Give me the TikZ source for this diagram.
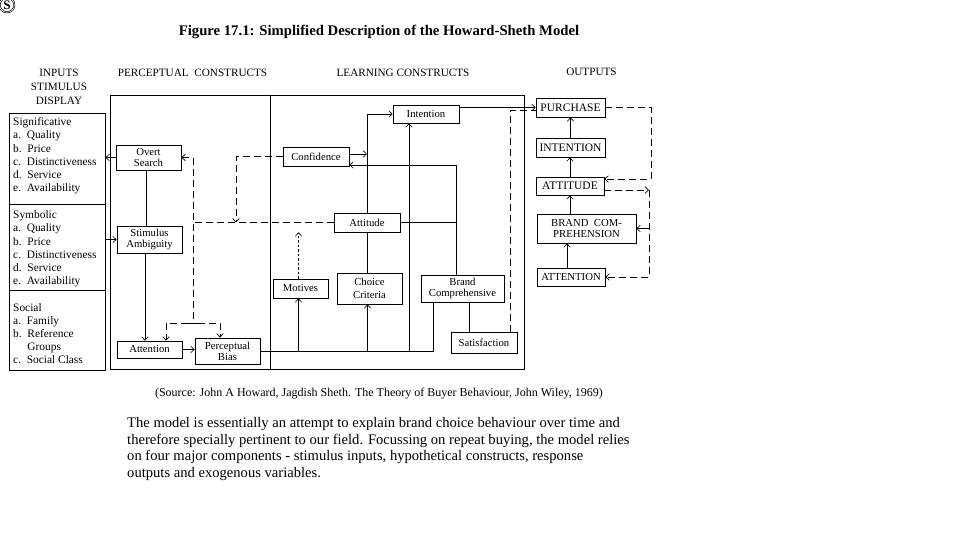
\documentclass[tikz,border=0pt]{standalone}
\usepackage{fontspec}
\setmainfont{Liberation Serif}
\usetikzlibrary{arrows.meta}
\begin{document}
\begin{tikzpicture}[x=1pt,y=-1pt,
  >={Straight Barb[length=3.5pt,width=6.5pt]},
  box/.style={draw, line width=0.7pt, inner sep=0pt, align=center, font=\fontsize{10.7}{11}\selectfont},
  obox/.style={box, font=\fontsize{11.5}{12}\selectfont},
  ibox/.style={draw, line width=0.8pt, inner sep=0pt, minimum width=96},
  itxt/.style={inner sep=0pt, anchor=north west, align=left, font=\fontsize{11.4}{13.2}\selectfont},
  hdr/.style={inner sep=0pt, align=center, font=\fontsize{11.2}{14}\selectfont},
  conn/.style={line width=0.6pt},
  dsh/.style={line width=0.7pt, dash pattern=on 7pt off 4pt},
  fdsh/.style={line width=0.6pt, dash pattern=on 2.5pt off 2pt},
  frame/.style={line width=0.8pt},
  para/.style={inner sep=0pt, anchor=base west, font=\fontsize{14.6}{16}\selectfont}]
\useasboundingbox (0,0) rectangle (959,540);
\fill[white] (0,0) rectangle (959,540);

% logo
\node[draw, circle, double, line width=0.6pt, inner sep=1.2pt, font=\bfseries\fontsize{13}{13}\selectfont] (logo) at (7,5) {S};

% title
\node[inner sep=0pt, font=\bfseries\fontsize{14.7}{16}\selectfont] (title) at (379,32) {Figure 17.1: Simplified Description of the Howard-Sheth Model};

% headers
\node[hdr] (h1) at (59,87) {INPUTS\\STIMULUS\\DISPLAY};
\node[hdr] (h2) at (192.5,73) {PERCEPTUAL\ \ CONSTRUCTS};
\node[hdr] (h3) at (403,73) {LEARNING CONSTRUCTS};
\node[hdr] (h4) at (591.5,72) {OUTPUTS};

% input boxes
\node[ibox, minimum height=91] (sig) at (57,158.5) {};
\node[ibox, minimum height=86] (sym) at (57,247) {};
\node[ibox, minimum height=80] (soc) at (57,330) {};
\node[itxt] (sigt) at (13,117.5) {Significative\\a.\ \ Quality\\b.\ \ Price\\c.\ \ Distinctiveness\\d.\ \ Service\\e.\ \ Availability};
\node[itxt] (symt) at (13,210.5) {Symbolic\\a.\ \ Quality\\b.\ \ Price\\c.\ \ Distinctiveness\\d.\ \ Service\\e.\ \ Availability};
\node[itxt] (soct) at (13,303) {Social\\a.\ \ Family\\b.\ \ Reference\\\phantom{b.\ \ }Groups\\c.\ \ Social Class};

% construct frame
\draw[frame] (110,95) rectangle (524,369);
\draw[frame] (270,95) -- (270,369);

% perceptual constructs
\node[box, minimum width=65, minimum height=25] (os) at (148.5,157.5) {Overt\\Search};
\node[box, minimum width=65, minimum height=27] (sa) at (149.5,239.5) {Stimulus\\Ambiguity};
\node[box, minimum width=65, minimum height=17] (att) at (149.5,349.5) {Attention};
\node[box, minimum width=65, minimum height=26] (pb) at (227.5,351) {Perceptual\\Bias};

% learning constructs
\node[box, minimum width=66, minimum height=19] (conf) at (316,156.5) {Confidence};
\node[box, minimum width=66, minimum height=18] (int) at (426,114) {Intention};
\node[box, minimum width=66, minimum height=19] (atti) at (367,222.5) {Attitude};
\node[box, minimum width=55, minimum height=19] (mot) at (300.5,288.5) {Motives};
\node[box, minimum width=65, minimum height=31, font=\fontsize{10.7}{13}\selectfont] (cc) at (369.5,288.5) {Choice\\Criteria};
\node[box, minimum width=83, minimum height=27] (bc) at (462.5,288.5) {Brand\\Comprehensive};
\node[box, minimum width=66, minimum height=21] (sat) at (484,342.5) {Satisfaction};

% outputs
\node[obox, minimum width=69, minimum height=19] (P) at (570.5,107.5) {PURCHASE};
\node[obox, minimum width=69, minimum height=19] (I) at (570.5,147.5) {INTENTION};
\node[obox, minimum width=68, minimum height=18] (A) at (570,186) {ATTITUDE};
\node[box, minimum width=99, minimum height=29, font=\fontsize{10.7}{11.5}\selectfont] (B) at (586.5,228.5) {BRAND\ \ COM-\\PREHENSION};
\node[box, minimum width=68, minimum height=18] (T) at (571,277) {ATTENTION};

% perceptual connectors
\draw[conn,->] (os.west) -- (os.west -| sig.east);
\draw[conn,->] (sa.west -| sym.east) -- (sa.west);
\draw[conn] ([xshift=-2.5pt]os.south) -- ([xshift=-2.5pt]os.south |- sa.north);
\draw[conn,->] ([xshift=-4.5pt]sa.south) -- ([xshift=-4.5pt]sa.south |- att.north);
\draw[conn,->] (att.east) -- (att.east -| pb.west);

\coordinate (tj) at (193,323);
\coordinate (tl) at (166,323);
\coordinate (tr) at (220,323);
\draw[dsh,<-] (os.east) -| (tj);
\draw[conn] ([xshift=-5pt]tj) -- ([xshift=5pt]tj);
\draw[dsh,->] ([xshift=-5pt]tj) -- (tl) -- (tl |- att.north);
\draw[dsh,->] ([xshift=5pt]tj) -- (tr) -- (tr |- pb.north);
\draw[dsh] (atti.west) -- (atti.west -| tj);
\coordinate (cd) at (236,156.5);
\draw[dsh,->] (conf.west) -- (cd) -- (cd |- atti.west);
\draw[fdsh,->] ([xshift=-2pt]mot.north) -- ([xshift=-2pt]mot.north |- atti.south);

% learning connectors
\coordinate (bq) at ([xshift=-29.5pt]bc.south);
\coordinate (iq) at ([xshift=-17pt]int.south);
\draw[conn] (pb.east) -- (pb.east -| bq) -- (bq);
\draw[conn,->] ([xshift=-2pt]mot.south |- pb.east) -- ([xshift=-2pt]mot.south);
\draw[conn,->] ([xshift=-2pt]cc.south |- pb.east) -- ([xshift=-2pt]cc.south);
\draw[conn,->] (iq |- pb.east) -- (iq);
\draw[conn] (atti.south) -- (atti.south |- cc.north);
\draw[conn,->] (atti.north) |- (int.west);
\draw[conn,->] ([yshift=2.5pt]conf.east) -- ([yshift=2.5pt]conf.east -| atti.north);
\coordinate (bv) at ([xshift=-6.5pt]bc.north);
\draw[conn,->] (bv) |- ([yshift=-8.5pt]conf.east);
\draw[conn] (atti.east) -- (atti.east -| bv);
\draw[conn] ([xshift=6.5pt]bc.south) -- ([xshift=6.5pt]bc.south |- sat.north);
\draw[conn,->] ([yshift=6.5pt]int.east) -- ([yshift=6.5pt]int.east -| P.west);
\draw[dsh] ([xshift=26pt]sat.north) |- ([yshift=-3pt]P.west);

% output connectors
\draw[conn,->] ([xshift=-4pt]T.north) -- ([xshift=-4pt]T.north |- B.south);
\draw[conn,->] (A.south |- B.north) -- (A.south);
\draw[conn,->] (A.north) -- (A.north |- I.south);
\draw[conn,->] (I.north) -- (I.north |- P.south);
\coordinate (a1) at ([yshift=7pt]A.east);
\coordinate (a2) at ([yshift=-4pt]A.east);
\coordinate (rr) at (651,0);
\coordinate (rs) at (649,0);
\draw[dsh,->] (P.east) -| (rr |- a1) -- (a1);
\draw[dsh,->] (a2) -- (a2 -| rs);
\draw[dsh,->] (a2 -| rs) -- (rs |- T.east) -- (T.east);
\draw[conn,->] (rs |- B.east) -- (B.east);

% source and paragraph
\node[inner sep=0pt, font=\fontsize{12}{13}\selectfont] (src) at (379,394) {(Source: John A Howard, Jagdish Sheth. The Theory of Buyer Behaviour, John Wiley, 1969)};
\node[para] (p1) at (127,427.5) {The model is essentially an attempt to explain brand choice behaviour over time and};
\node[para] (p2) at (127,444.2) {therefore specially pertinent to our field. Focussing on repeat buying, the model relies};
\node[para] (p3) at (127,460.9) {on four major components - stimulus inputs, hypothetical constructs, response};
\node[para] (p4) at (127,477.6) {outputs and exogenous variables.};
\end{tikzpicture}
\end{document}
